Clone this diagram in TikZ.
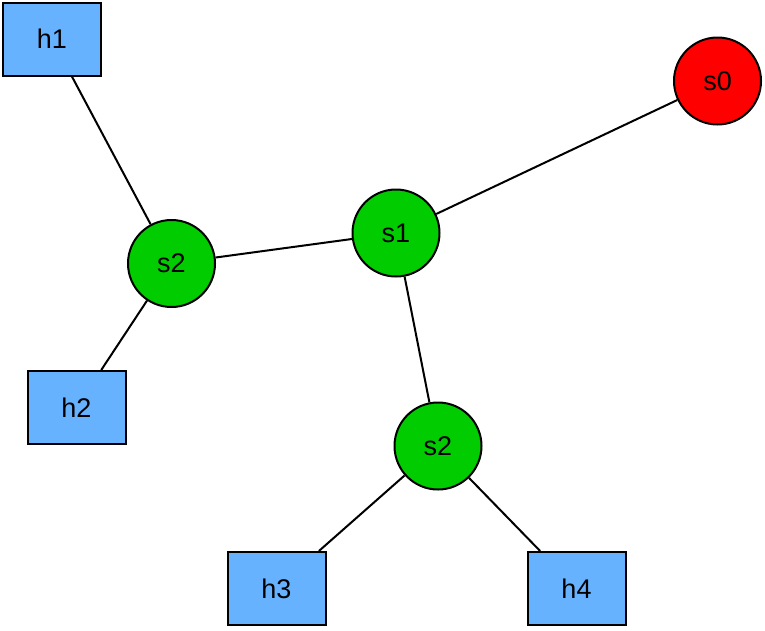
\documentclass[tikz,border=0pt]{standalone}
\usepackage{fontspec}
\setmainfont{Liberation Sans}
\definecolor{hostblue}{HTML}{66B2FF}
\definecolor{swgreen}{HTML}{00CC00}
\definecolor{rootred}{HTML}{FF0000}
\begin{document}
\begin{tikzpicture}[x=1pt,y=-1pt,
  base/.style={draw=black,line width=2pt,inner sep=0pt,font=\fontsize{27}{31}\selectfont},
  hostbox/.style={base,rectangle,fill=hostblue,minimum width=98pt,minimum height=73pt},
  swnode/.style={base,circle,fill=swgreen,minimum size=87pt},
  rootnode/.style={base,circle,fill=rootred,minimum size=87pt},
  link/.style={line width=2pt,draw=black}]
\useasboundingbox (0,0) rectangle (765,630);
\node[hostbox] (h1) at (52,39) {h1};
\node[rootnode] (s0) at (717.5,81) {s0};
\node[swnode] (s1) at (396,233) {s1};
\node[swnode] (s2a) at (171.5,263.5) {s2};
\node[hostbox] (h2) at (76.5,407.5) {h2};
\node[swnode] (s2b) at (438,446) {s2};
\node[hostbox] (h3) at (276.5,588.5) {h3};
\node[hostbox] (h4) at (576.5,588.5) {h4};
\draw[link] (h1) -- (s2a);
\draw[link] (s2a) -- (h2);
\draw[link] (s2a) -- (s1);
\draw[link] (s1) -- (s0);
\draw[link] (s1) -- (s2b);
\draw[link] (s2b) -- (h3);
\draw[link] (s2b) -- (h4);
\end{tikzpicture}
\end{document}
